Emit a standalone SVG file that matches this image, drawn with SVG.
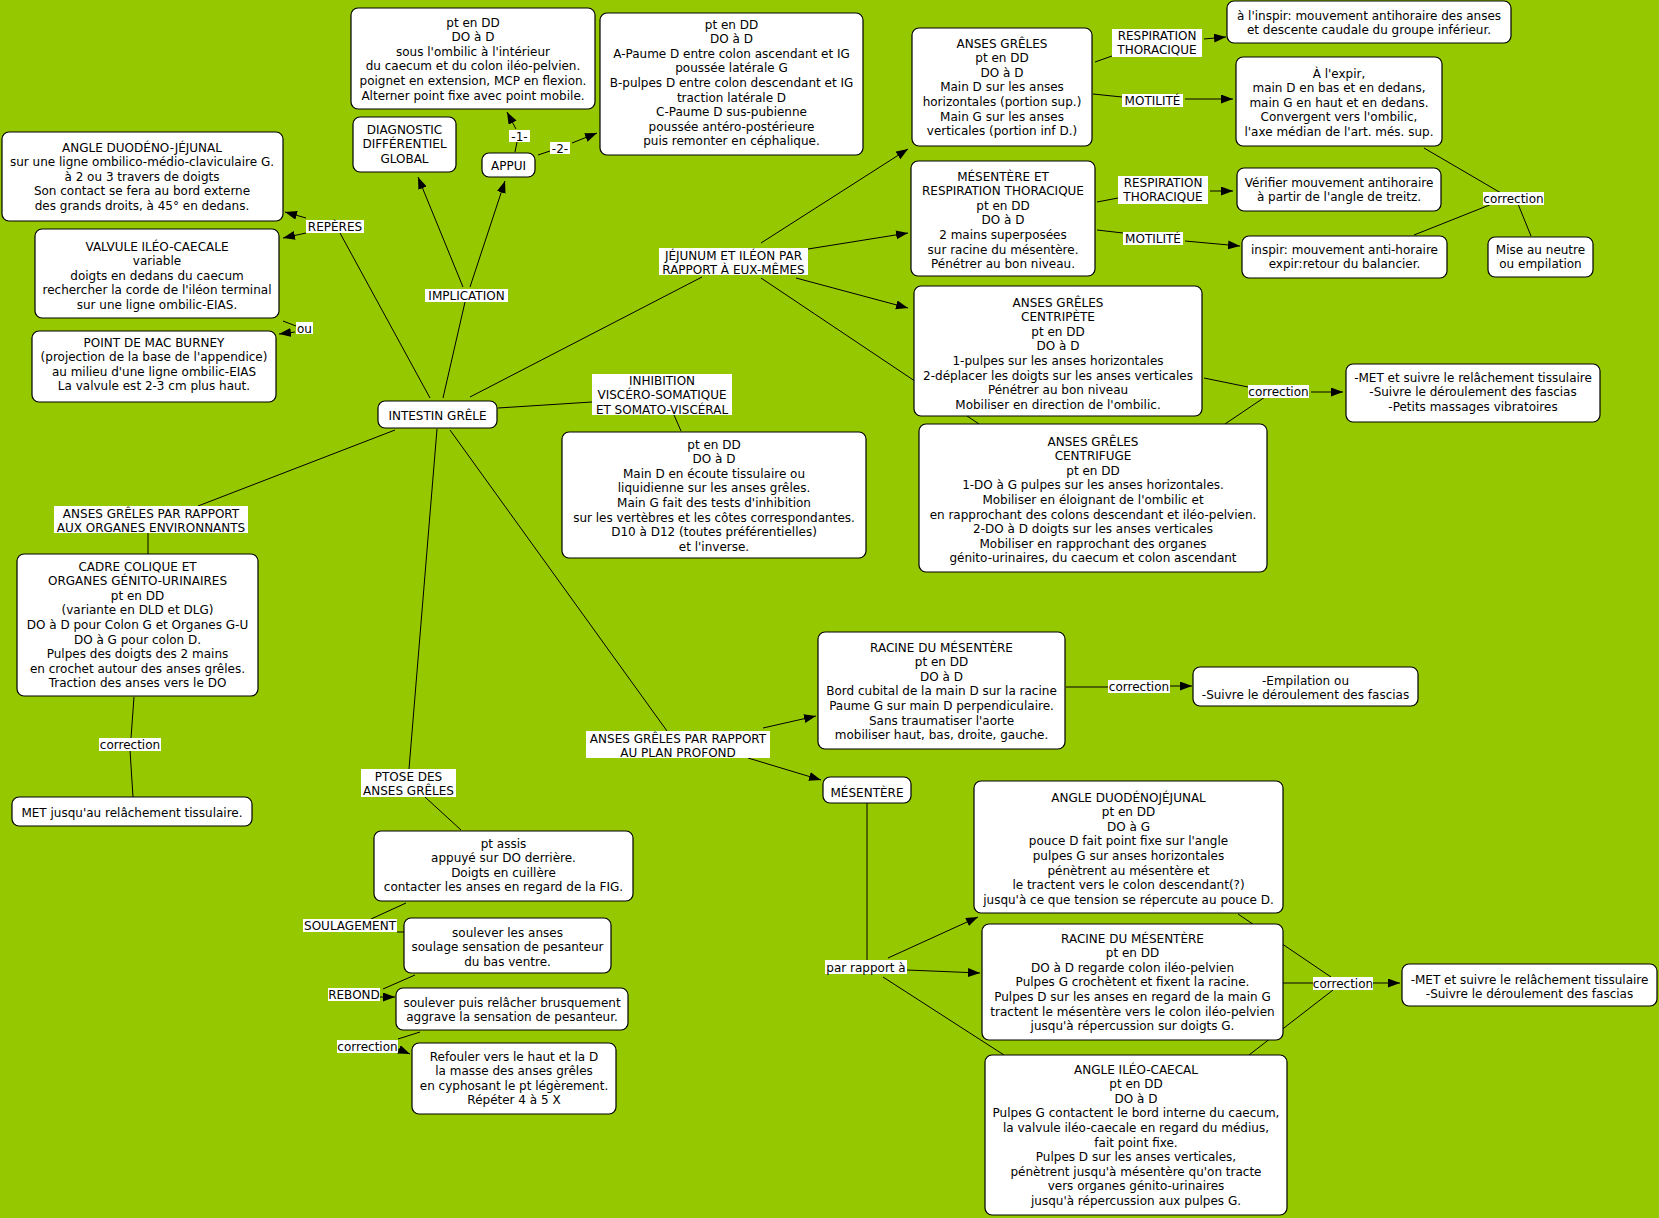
<svg xmlns="http://www.w3.org/2000/svg" width="1659" height="1218" viewBox="0 0 1659 1218">
<defs>
<marker id="ah" markerUnits="userSpaceOnUse" markerWidth="13" markerHeight="10" refX="12" refY="4.5" orient="auto"><path d="M0,0 L12,4.5 L0,9 z" fill="#000"/></marker>
<style>
.n rect{fill:#fff;stroke:#000;stroke-width:1.2}
.l rect{fill:#fff}
text{font-family:"DejaVu Sans",Verdana,sans-serif;font-size:12px;text-anchor:middle;fill:#000}
#connectors line{stroke:#000;stroke-width:1}
#connectors line.a{marker-end:url(#ah)}
</style>
</defs>
<rect x="0" y="0" width="1659" height="1218" fill="#96C800"/>
<g id="connectors">
<line x1="430" y1="398" x2="340" y2="233"/>
<line class="a" x1="306" y1="218" x2="285" y2="212"/>
<line class="a" x1="306" y1="233" x2="283" y2="238"/>
<line x1="283" y1="321" x2="296" y2="326"/>
<line class="a" x1="295" y1="332" x2="279" y2="334"/>
<line x1="443" y1="398" x2="465" y2="302"/>
<line class="a" x1="463" y1="287" x2="418" y2="177"/>
<line class="a" x1="470" y1="287" x2="505" y2="181"/>
<line x1="515" y1="152" x2="517" y2="142"/>
<line class="a" x1="516" y1="129" x2="507" y2="112"/>
<line x1="538" y1="155" x2="550" y2="151"/>
<line class="a" x1="572" y1="143" x2="597" y2="133"/>
<line x1="470" y1="397" x2="702" y2="277"/>
<line class="a" x1="761" y1="243" x2="908" y2="149"/>
<line class="a" x1="808" y1="249" x2="908" y2="233"/>
<line class="a" x1="796" y1="278" x2="908" y2="308"/>
<line x1="761" y1="278" x2="979" y2="424"/>
<line x1="1095" y1="62" x2="1112" y2="56"/>
<line class="a" x1="1204" y1="39" x2="1226" y2="37"/>
<line x1="1093" y1="94" x2="1122" y2="97"/>
<line class="a" x1="1185" y1="99" x2="1233" y2="99"/>
<line x1="1097" y1="202" x2="1118" y2="198"/>
<line class="a" x1="1210" y1="191" x2="1233" y2="191"/>
<line x1="1097" y1="230" x2="1123" y2="233"/>
<line class="a" x1="1185" y1="241" x2="1240" y2="246"/>
<line x1="1424" y1="148" x2="1501" y2="193"/>
<line x1="1414" y1="235" x2="1492" y2="204"/>
<line x1="1518" y1="204" x2="1531" y2="236"/>
<line x1="1204" y1="378" x2="1248" y2="387"/>
<line x1="1225" y1="424" x2="1265" y2="397"/>
<line class="a" x1="1311" y1="392" x2="1343" y2="392"/>
<line x1="498" y1="408" x2="592" y2="402"/>
<line x1="674" y1="415" x2="681" y2="431"/>
<line x1="395" y1="430" x2="198" y2="506"/>
<line x1="148" y1="533" x2="148" y2="554"/>
<line x1="134" y1="697" x2="131" y2="738"/>
<line x1="130" y1="750" x2="133" y2="797"/>
<line x1="437" y1="429" x2="409" y2="769"/>
<line x1="425" y1="797" x2="461" y2="830"/>
<line x1="406" y1="903" x2="371" y2="919"/>
<line x1="397" y1="932" x2="404" y2="932"/>
<line x1="415" y1="975" x2="383" y2="989"/>
<line class="a" x1="380" y1="997" x2="395" y2="997"/>
<line x1="420" y1="1032" x2="398" y2="1039"/>
<line class="a" x1="398" y1="1049" x2="410" y2="1054"/>
<line x1="450" y1="430" x2="667" y2="731"/>
<line class="a" x1="763" y1="728" x2="816" y2="716"/>
<line class="a" x1="748" y1="758" x2="821" y2="780"/>
<line x1="1066" y1="687" x2="1108" y2="687"/>
<line class="a" x1="1170" y1="686" x2="1192" y2="686"/>
<line x1="867" y1="803" x2="867" y2="960"/>
<line class="a" x1="888" y1="958" x2="978" y2="917"/>
<line class="a" x1="907" y1="970" x2="980" y2="973"/>
<line x1="883" y1="977" x2="1004" y2="1055"/>
<line x1="1238" y1="914" x2="1331" y2="977"/>
<line x1="1283" y1="983" x2="1313" y2="983"/>
<line x1="1249" y1="1055" x2="1333" y2="990"/>
<line class="a" x1="1373" y1="983" x2="1400" y2="983"/>
</g>

<g id="lbl-reperes" class="l"><rect x="306" y="220" width="58" height="13"/><text x="335" y="230.5">REPÈRES</text></g>
<g id="lbl-ou" class="l"><rect x="296" y="322" width="17" height="12"/><text x="304.5" y="332.5">ou</text></g>
<g id="lbl-implication" class="l"><rect x="425" y="289" width="83" height="13"/><text x="466.5" y="299.5">IMPLICATION</text></g>
<g id="lbl-1" class="l"><rect x="509" y="130" width="21" height="12"/><text x="519.5" y="140.5">-1-</text></g>
<g id="lbl-2" class="l"><rect x="550" y="142" width="20" height="12"/><text x="560" y="152.5">-2-</text></g>
<g id="lbl-jejunum" class="l"><rect x="659" y="248" width="149" height="27"/><text x="733.5" y="259.5"><tspan x="733.5">JÉJUNUM ET ILÉON PAR</tspan><tspan x="733.5" dy="14.6">RAPPORT À EUX-MÊMES</tspan></text></g>
<g id="lbl-inhibition" class="l"><rect x="592" y="374" width="140" height="41"/><text x="662" y="384.5"><tspan x="662">INHIBITION</tspan><tspan x="662" dy="14.6">VISCÉRO-SOMATIQUE</tspan><tspan x="662" dy="14.6">ET SOMATO-VISCÉRAL</tspan></text></g>
<g id="lbl-resp1" class="l"><rect x="1112" y="29" width="90" height="28"/><text x="1157" y="39.5"><tspan x="1157">RESPIRATION</tspan><tspan x="1157" dy="14.6">THORACIQUE</tspan></text></g>
<g id="lbl-motil1" class="l"><rect x="1122" y="94" width="61" height="13"/><text x="1152.5" y="104.5">MOTILITÉ</text></g>
<g id="lbl-resp2" class="l"><rect x="1118" y="176" width="90" height="28"/><text x="1163" y="186.5"><tspan x="1163">RESPIRATION</tspan><tspan x="1163" dy="14.6">THORACIQUE</tspan></text></g>
<g id="lbl-motil2" class="l"><rect x="1123" y="232" width="60" height="13"/><text x="1153" y="242.5">MOTILITÉ</text></g>
<g id="lbl-corr-a" class="l"><rect x="1483" y="192" width="61" height="13"/><text x="1513.5" y="202.5">correction</text></g>
<g id="lbl-corr-b" class="l"><rect x="1248" y="385" width="61" height="13"/><text x="1278.5" y="395.5">correction</text></g>
<g id="lbl-organes" class="l"><rect x="54" y="506" width="194" height="27"/><text x="151" y="517.5"><tspan x="151">ANSES GRÊLES PAR RAPPORT</tspan><tspan x="151" dy="14.6">AUX ORGANES ENVIRONNANTS</tspan></text></g>
<g id="lbl-corr-c" class="l"><rect x="99" y="738" width="62" height="13"/><text x="130" y="748.5">correction</text></g>
<g id="lbl-profond" class="l"><rect x="586" y="731" width="184" height="27"/><text x="678" y="742.5"><tspan x="678">ANSES GRÊLES PAR RAPPORT</tspan><tspan x="678" dy="14.6">AU PLAN PROFOND</tspan></text></g>
<g id="lbl-corr-d" class="l"><rect x="1108" y="680" width="62" height="13"/><text x="1139" y="690.5">correction</text></g>
<g id="lbl-ptose" class="l"><rect x="361" y="769" width="95" height="28"/><text x="408.5" y="780.5"><tspan x="408.5">PTOSE DES</tspan><tspan x="408.5" dy="14.6">ANSES GRÊLES</tspan></text></g>
<g id="lbl-parrapport" class="l"><rect x="825" y="960" width="82" height="14"/><text x="866" y="971.5">par rapport à</text></g>
<g id="lbl-corr-e" class="l"><rect x="1313" y="977" width="60" height="13"/><text x="1343" y="987.5">correction</text></g>
<g id="lbl-soulagement" class="l"><rect x="303" y="919" width="94" height="13"/><text x="350" y="929.5">SOULAGEMENT</text></g>
<g id="lbl-rebond" class="l"><rect x="328" y="988" width="52" height="13"/><text x="354" y="998.5">REBOND</text></g>
<g id="lbl-corr-f" class="l"><rect x="337" y="1040" width="61" height="13"/><text x="367.5" y="1050.5">correction</text></g>

<g id="n-angle-dj" class="n"><rect x="2" y="132" width="281" height="89" rx="7"/><text x="142" y="151.5"><tspan x="142">ANGLE DUODÉNO-JÉJUNAL</tspan><tspan x="142" dy="14.6">sur une ligne ombilico-médio-claviculaire G.</tspan><tspan x="142" dy="14.6">à 2 ou 3 travers de doigts</tspan><tspan x="142" dy="14.6">Son contact se fera au bord externe</tspan><tspan x="142" dy="14.6">des grands droits, à 45° en dedans.</tspan></text></g>
<g id="n-valvule" class="n"><rect x="35" y="229" width="244" height="89" rx="7"/><text x="157" y="250.5"><tspan x="157">VALVULE ILÉO-CAECALE</tspan><tspan x="157" dy="14.6">variable</tspan><tspan x="157" dy="14.6">doigts en dedans du caecum</tspan><tspan x="157" dy="14.6">rechercher la corde de l'iléon terminal</tspan><tspan x="157" dy="14.6">sur une ligne ombilic-EIAS.</tspan></text></g>
<g id="n-macburney" class="n"><rect x="32" y="331" width="244" height="71" rx="7"/><text x="154" y="346.5"><tspan x="154">POINT DE MAC BURNEY</tspan><tspan x="154" dy="14.6">(projection de la base de l'appendice)</tspan><tspan x="154" dy="14.6">au milieu d'une ligne ombilic-EIAS</tspan><tspan x="154" dy="14.6">La valvule est 2-3 cm plus haut.</tspan></text></g>
<g id="n-ombilic" class="n"><rect x="351" y="8" width="244" height="101" rx="7"/><text x="473" y="26.5"><tspan x="473">pt en DD</tspan><tspan x="473" dy="14.6">DO à D</tspan><tspan x="473" dy="14.6">sous l'ombilic à l'intérieur</tspan><tspan x="473" dy="14.6">du caecum et du colon iléo-pelvien.</tspan><tspan x="473" dy="14.6">poignet en extension, MCP en flexion.</tspan><tspan x="473" dy="14.6">Alterner point fixe avec point mobile.</tspan></text></g>
<g id="n-diag" class="n"><rect x="353" y="117" width="103" height="55" rx="7"/><text x="404.5" y="133.5"><tspan x="404.5">DIAGNOSTIC</tspan><tspan x="404.5" dy="14.6">DIFFÉRENTIEL</tspan><tspan x="404.5" dy="14.6">GLOBAL</tspan></text></g>
<g id="n-appui" class="n"><rect x="482" y="153" width="53" height="24" rx="7"/><text x="508.5" y="170">APPUI</text></g>
<g id="n-paume" class="n"><rect x="600" y="13" width="263" height="142" rx="7"/><text x="731.5" y="28.5"><tspan x="731.5">pt en DD</tspan><tspan x="731.5" dy="14.6">DO à D</tspan><tspan x="731.5" dy="14.6">A-Paume D entre colon ascendant et IG</tspan><tspan x="731.5" dy="14.6">poussée latérale G</tspan><tspan x="731.5" dy="14.6">B-pulpes D entre colon descendant et IG</tspan><tspan x="731.5" dy="14.6">traction latérale D</tspan><tspan x="731.5" dy="14.6">C-Paume D sus-pubienne</tspan><tspan x="731.5" dy="14.6">poussée antéro-postérieure</tspan><tspan x="731.5" dy="14.6">puis remonter en céphalique.</tspan></text></g>
<g id="n-intestin" class="n"><rect x="378" y="401" width="119" height="27" rx="7"/><text x="437.5" y="419.5">INTESTIN GRÊLE</text></g>
<g id="n-anses" class="n"><rect x="912" y="28" width="180" height="118" rx="7"/><text x="1002" y="47.5"><tspan x="1002">ANSES GRÊLES</tspan><tspan x="1002" dy="14.6">pt en DD</tspan><tspan x="1002" dy="14.6">DO à D</tspan><tspan x="1002" dy="14.6">Main D sur les anses</tspan><tspan x="1002" dy="14.6">horizontales (portion sup.)</tspan><tspan x="1002" dy="14.6">Main G sur les anses</tspan><tspan x="1002" dy="14.6">verticales (portion inf D.)</tspan></text></g>
<g id="n-inspir1" class="n"><rect x="1227" y="1" width="284" height="42" rx="7"/><text x="1369" y="19.5"><tspan x="1369">à l'inspir: mouvement antihoraire des anses</tspan><tspan x="1369" dy="14.6">et descente caudale du groupe inférieur.</tspan></text></g>
<g id="n-expir" class="n"><rect x="1236" y="57" width="206" height="89" rx="7"/><text x="1339" y="77.5"><tspan x="1339">À l'expir,</tspan><tspan x="1339" dy="14.6">main D en bas et en dedans,</tspan><tspan x="1339" dy="14.6">main G en haut et en dedans.</tspan><tspan x="1339" dy="14.6">Convergent vers l'ombilic,</tspan><tspan x="1339" dy="14.6">l'axe médian de l'art. més. sup.</tspan></text></g>
<g id="n-mes-resp" class="n"><rect x="911" y="161" width="184" height="115" rx="7"/><text x="1003" y="180.5"><tspan x="1003">MÉSENTÈRE ET</tspan><tspan x="1003" dy="14.6">RESPIRATION THORACIQUE</tspan><tspan x="1003" dy="14.6">pt en DD</tspan><tspan x="1003" dy="14.6">DO à D</tspan><tspan x="1003" dy="14.6">2 mains superposées</tspan><tspan x="1003" dy="14.6">sur racine du mésentère.</tspan><tspan x="1003" dy="14.6">Pénétrer au bon niveau.</tspan></text></g>
<g id="n-verifier" class="n"><rect x="1237" y="168" width="204" height="43" rx="7"/><text x="1339" y="186.5"><tspan x="1339">Vérifier mouvement antihoraire</tspan><tspan x="1339" dy="14.6">à partir de l'angle de treitz.</tspan></text></g>
<g id="n-inspir2" class="n"><rect x="1242" y="236" width="205" height="42" rx="7"/><text x="1344.5" y="253.5"><tspan x="1344.5">inspir: mouvement anti-horaire</tspan><tspan x="1344.5" dy="14.6">expir:retour du balancier.</tspan></text></g>
<g id="n-mise" class="n"><rect x="1488" y="237" width="105" height="40" rx="7"/><text x="1540.5" y="253.5"><tspan x="1540.5">Mise au neutre</tspan><tspan x="1540.5" dy="14.6">ou empilation</tspan></text></g>
<g id="n-centripete" class="n"><rect x="914" y="286" width="288" height="130" rx="7"/><text x="1058" y="306.5"><tspan x="1058">ANSES GRÊLES</tspan><tspan x="1058" dy="14.6">CENTRIPÈTE</tspan><tspan x="1058" dy="14.6">pt en DD</tspan><tspan x="1058" dy="14.6">DO à D</tspan><tspan x="1058" dy="14.6">1-pulpes sur les anses horizontales</tspan><tspan x="1058" dy="14.6">2-déplacer les doigts sur les anses verticales</tspan><tspan x="1058" dy="14.6">Pénétrer au bon niveau</tspan><tspan x="1058" dy="14.6">Mobiliser en direction de l'ombilic.</tspan></text></g>
<g id="n-met1" class="n"><rect x="1346" y="364" width="254" height="58" rx="7"/><text x="1473" y="381.5"><tspan x="1473">-MET et suivre le relâchement tissulaire</tspan><tspan x="1473" dy="14.6">-Suivre le déroulement des fascias</tspan><tspan x="1473" dy="14.6">-Petits massages vibratoires</tspan></text></g>
<g id="n-centrifuge" class="n"><rect x="919" y="424" width="348" height="148" rx="7"/><text x="1093" y="445.5"><tspan x="1093">ANSES GRÊLES</tspan><tspan x="1093" dy="14.6">CENTRIFUGE</tspan><tspan x="1093" dy="14.6">pt en DD</tspan><tspan x="1093" dy="14.6">1-DO à G pulpes sur les anses horizontales.</tspan><tspan x="1093" dy="14.6">Mobiliser en éloignant de l'ombilic et</tspan><tspan x="1093" dy="14.6">en rapprochant des colons descendant et iléo-pelvien.</tspan><tspan x="1093" dy="14.6">2-DO à D doigts sur les anses verticales</tspan><tspan x="1093" dy="14.6">Mobiliser en rapprochant des organes</tspan><tspan x="1093" dy="14.6">génito-urinaires, du caecum et colon ascendant</tspan></text></g>
<g id="n-inhib" class="n"><rect x="562" y="432" width="304" height="126" rx="7"/><text x="714" y="448.5"><tspan x="714">pt en DD</tspan><tspan x="714" dy="14.6">DO à D</tspan><tspan x="714" dy="14.6">Main D en écoute tissulaire ou</tspan><tspan x="714" dy="14.6">liquidienne sur les anses grêles.</tspan><tspan x="714" dy="14.6">Main G fait des tests d'inhibition</tspan><tspan x="714" dy="14.6">sur les vertèbres et les côtes correspondantes.</tspan><tspan x="714" dy="14.6">D10 à D12 (toutes préférentielles)</tspan><tspan x="714" dy="14.6">et l'inverse.</tspan></text></g>
<g id="n-cadre" class="n"><rect x="17" y="554" width="241" height="142" rx="7"/><text x="137.5" y="570.5"><tspan x="137.5">CADRE COLIQUE ET</tspan><tspan x="137.5" dy="14.6">ORGANES GÉNITO-URINAIRES</tspan><tspan x="137.5" dy="14.6">pt en DD</tspan><tspan x="137.5" dy="14.6">(variante en DLD et DLG)</tspan><tspan x="137.5" dy="14.6">DO à D pour Colon G et Organes G-U</tspan><tspan x="137.5" dy="14.6">DO à G pour colon D.</tspan><tspan x="137.5" dy="14.6">Pulpes des doigts des 2 mains</tspan><tspan x="137.5" dy="14.6">en crochet autour des anses grêles.</tspan><tspan x="137.5" dy="14.6">Traction des anses vers le DO</tspan></text></g>
<g id="n-met-cadre" class="n"><rect x="12" y="797" width="240" height="29" rx="7"/><text x="132" y="816.5">MET jusqu'au relâchement tissulaire.</text></g>
<g id="n-racine1" class="n"><rect x="818" y="632" width="247" height="117" rx="7"/><text x="941.5" y="651.5"><tspan x="941.5">RACINE DU MÉSENTÈRE</tspan><tspan x="941.5" dy="14.6">pt en DD</tspan><tspan x="941.5" dy="14.6">DO à D</tspan><tspan x="941.5" dy="14.6">Bord cubital de la main D sur la racine</tspan><tspan x="941.5" dy="14.6">Paume G sur main D perpendiculaire.</tspan><tspan x="941.5" dy="14.6">Sans traumatiser l'aorte</tspan><tspan x="941.5" dy="14.6">mobiliser haut, bas, droite, gauche.</tspan></text></g>
<g id="n-empil" class="n"><rect x="1193" y="667" width="225" height="39" rx="7"/><text x="1305.5" y="684.5"><tspan x="1305.5">-Empilation ou</tspan><tspan x="1305.5" dy="14.6">-Suivre le déroulement des fascias</tspan></text></g>
<g id="n-mesentere" class="n"><rect x="823" y="777" width="88" height="26" rx="7"/><text x="867" y="796.5">MÉSENTÈRE</text></g>
<g id="n-angle-dj2" class="n"><rect x="974" y="781" width="309" height="132" rx="7"/><text x="1128.5" y="801.5"><tspan x="1128.5">ANGLE DUODÉNOJÉJUNAL</tspan><tspan x="1128.5" dy="14.6">pt en DD</tspan><tspan x="1128.5" dy="14.6">DO à G</tspan><tspan x="1128.5" dy="14.6">pouce D fait point fixe sur l'angle</tspan><tspan x="1128.5" dy="14.6">pulpes G sur anses horizontales</tspan><tspan x="1128.5" dy="14.6">pénètrent au mésentère et</tspan><tspan x="1128.5" dy="14.6">le tractent vers le colon descendant(?)</tspan><tspan x="1128.5" dy="14.6">jusqu'à ce que tension se répercute au pouce D.</tspan></text></g>
<g id="n-racine2" class="n"><rect x="982" y="924" width="301" height="116" rx="7"/><text x="1132.5" y="942.5"><tspan x="1132.5">RACINE DU MÉSENTÈRE</tspan><tspan x="1132.5" dy="14.6">pt en DD</tspan><tspan x="1132.5" dy="14.6">DO à D regarde colon iléo-pelvien</tspan><tspan x="1132.5" dy="14.6">Pulpes G crochètent et fixent la racine.</tspan><tspan x="1132.5" dy="14.6">Pulpes D sur les anses en regard de la main G</tspan><tspan x="1132.5" dy="14.6">tractent le mésentère vers le colon iléo-pelvien</tspan><tspan x="1132.5" dy="14.6">jusqu'à répercussion sur doigts G.</tspan></text></g>
<g id="n-ileo" class="n"><rect x="985" y="1055" width="302" height="160" rx="7"/><text x="1136" y="1073.5"><tspan x="1136">ANGLE ILÉO-CAECAL</tspan><tspan x="1136" dy="14.6">pt en DD</tspan><tspan x="1136" dy="14.6">DO à D</tspan><tspan x="1136" dy="14.6">Pulpes G contactent le bord interne du caecum,</tspan><tspan x="1136" dy="14.6">la valvule iléo-caecale en regard du médius,</tspan><tspan x="1136" dy="14.6">fait point fixe.</tspan><tspan x="1136" dy="14.6">Pulpes D sur les anses verticales,</tspan><tspan x="1136" dy="14.6">pénètrent jusqu'à mésentère qu'on tracte</tspan><tspan x="1136" dy="14.6">vers organes génito-urinaires</tspan><tspan x="1136" dy="14.6">jusqu'à répercussion aux pulpes G.</tspan></text></g>
<g id="n-met3" class="n"><rect x="1402" y="964" width="255" height="42" rx="7"/><text x="1529.5" y="983.5"><tspan x="1529.5">-MET et suivre le relâchement tissulaire</tspan><tspan x="1529.5" dy="14.6">-Suivre le déroulement des fascias</tspan></text></g>
<g id="n-assis" class="n"><rect x="374" y="831" width="259" height="70" rx="7"/><text x="503.5" y="847.5"><tspan x="503.5">pt assis</tspan><tspan x="503.5" dy="14.6">appuyé sur DO derrière.</tspan><tspan x="503.5" dy="14.6">Doigts en cuillère</tspan><tspan x="503.5" dy="14.6">contacter les anses en regard de la FIG.</tspan></text></g>
<g id="n-soulever" class="n"><rect x="404" y="918" width="207" height="55" rx="7"/><text x="507.5" y="936.5"><tspan x="507.5">soulever les anses</tspan><tspan x="507.5" dy="14.6">soulage sensation de pesanteur</tspan><tspan x="507.5" dy="14.6">du bas ventre.</tspan></text></g>
<g id="n-relacher" class="n"><rect x="396" y="988" width="232" height="42" rx="7"/><text x="512" y="1006.5"><tspan x="512">soulever puis relâcher brusquement</tspan><tspan x="512" dy="14.6">aggrave la sensation de pesanteur.</tspan></text></g>
<g id="n-refouler" class="n"><rect x="412" y="1043" width="204" height="71" rx="7"/><text x="514" y="1060.5"><tspan x="514">Refouler vers le haut et la D</tspan><tspan x="514" dy="14.6">la masse des anses grêles</tspan><tspan x="514" dy="14.6">en cyphosant le pt légèrement.</tspan><tspan x="514" dy="14.6">Répéter 4 à 5 X</tspan></text></g>
</svg>
